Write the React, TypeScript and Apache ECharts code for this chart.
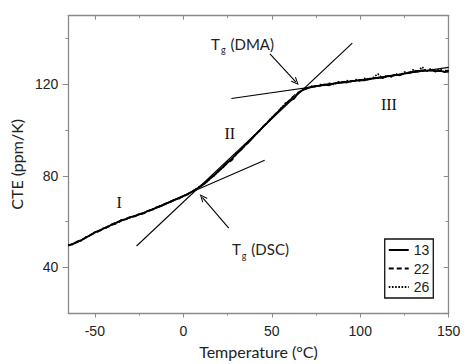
import React, { useEffect, useRef } from "react";
import * as echarts from "echarts";

// Temperature (°C) sample points
const temperatures = [
  -65, -62.5, -60, -57.5, -55, -52.5, -50, -47.5, -45, -42.5, -40, -37.5, -35, -32.5, -30, -27.5,
  -25, -22.5, -20, -17.5, -15, -12.5, -10, -7.5, -5, -2.5, 0, 2.5, 5, 7.5, 10, 12.5, 15, 17.5,
  20, 22.5, 25, 27.5, 30, 32.5, 35, 37.5, 40, 42.5, 45, 47.5, 50, 52.5, 55, 57.5, 60, 62.5,
  65, 67.5, 70, 72.5, 75, 77.5, 80, 82.5, 85, 87.5, 90, 92.5, 95, 97.5, 100, 102.5, 105, 107.5,
  110, 112.5, 115, 117.5, 120, 122.5, 125, 127.5, 130, 132.5, 135, 137.5, 140, 142.5, 145, 147.5, 150,
];

// CTE (ppm/K) for the three samples
const cte13 = [
  49.6, 50.1, 51.2, 51.8, 53.1, 54.0, 55.3, 55.9, 57.0, 57.7, 58.9, 59.5, 60.6, 61.0, 61.9, 62.3,
  63.2, 63.6, 64.6, 65.2, 66.2, 66.8, 67.8, 68.5, 69.5, 70.1, 71.1, 71.9, 73.1, 74.2, 75.6, 76.9, 78.7, 80.2,
  82.2, 83.8, 85.8, 87.5, 89.6, 91.3, 93.4, 95.2, 97.4, 99.2, 101.4, 103.2, 105.3, 107.1, 109.2, 110.9, 113.0, 113.6,
  116.4, 117.4, 118.4, 118.8, 119.3, 119.4, 119.9, 119.6, 120.4, 120.5, 121.0, 120.8, 121.5, 121.5, 121.9, 121.7, 122.4, 122.5,
  122.9, 122.8, 123.5, 123.6, 124.1, 124.0, 124.8, 124.9, 125.6, 125.6, 126.1, 125.9, 126.2, 125.7, 126.0, 125.4, 125.6,
];
const cte22 = [
  49.4, 50.3, 50.9, 52.0, 52.9, 54.2, 55.0, 56.1, 56.8, 57.9, 58.6, 59.2, 60.3, 61.2, 61.7, 62.5,
  62.9, 63.8, 64.4, 65.4, 66.0, 67.0, 67.6, 68.7, 69.3, 70.3, 70.9, 72.1, 72.9, 74.4, 75.4, 77.1, 78.5, 80.4,
  82.0, 84.0, 85.6, 86.9, 89.4, 91.5, 93.2, 95.4, 97.2, 99.4, 101.2, 103.4, 105.1, 107.3, 109.0, 111.3, 112.8, 114.9,
  116.2, 117.6, 118.2, 119.0, 119.1, 119.6, 119.7, 120.2, 120.2, 120.7, 120.8, 121.2, 121.3, 121.7, 121.7, 122.2, 122.2, 122.7,
  122.7, 123.2, 123.3, 123.8, 123.9, 124.4, 124.6, 125.2, 125.4, 125.9, 125.9, 126.3, 126.0, 126.2, 125.8, 126.0, 125.9,
];
const cte26 = [
  49.7, 50.0, 51.1, 51.7, 53.2, 53.9, 55.2, 55.8, 57.1, 57.6, 58.9, 59.8, 60.5, 60.9, 62.0, 62.2,
  63.1, 63.5, 64.7, 65.1, 66.3, 66.7, 67.9, 68.4, 69.6, 70.0, 71.2, 71.8, 73.2, 74.1, 75.7, 76.8, 78.8, 80.1,
  82.3, 83.7, 85.9, 87.4, 89.7, 91.2, 93.5, 95.1, 97.5, 99.1, 101.5, 103.1, 105.4, 107.0, 109.3, 111.6, 112.7, 115.1,
  116.0, 117.8, 118.1, 119.1, 119.0, 119.9, 119.5, 120.4, 120.0, 121.1, 120.6, 121.6, 121.0, 122.1, 121.4, 122.6, 121.9, 123.0,
  124.6, 122.6, 123.9, 123.2, 124.6, 123.9, 125.4, 124.8, 126.4, 125.5, 127.6, 125.6, 126.9, 125.6, 126.6, 125.5, 126.1,
];

const seriesNames = ["13", "22", "26"];

// Tick values
const xMajorTicks = [-50, 0, 50, 100, 150];
const xMinorTicks = [-25, 25, 75, 125];
const yMajorTicks = [40, 80, 120];
const yMinorTicks = [60, 100, 140];

// Tangent lines [x, y] endpoints
const tangentI = [[-15, 66.2], [46, 86.8]];
const tangentII = [[-26.4, 49.3], [95.5, 138]];
const tangentIII = [[27.2, 113.8], [150, 127.4]];

// Arrows: [from, to]
const arrowDMA = [[49, 133.3], [63.7, 121]];
const arrowDSC = [[25.7, 57.1], [10.8, 70.6]];

// Region labels
const regionLabels = [
  { text: "I", pos: [-36.3, 68.3] },
  { text: "II", pos: [26.3, 98.7] },
  { text: "III", pos: [116.2, 111.3] },
];
const tgLabels = [
  { text: "{t|T}{s|g}{t| (DMA)}", pos: [33.5, 137.1] },
  { text: "{t|T}{s|g}{t| (DSC)}", pos: [43.6, 47.3] },
];

const AXIS_COLOR = "#8a8a8a";
const TEXT_COLOR = "#222";

function zip(xs: number[], ys: number[]) {
  return xs.map((x, i) => [x, ys[i]]);
}

export default function App() {
  const ref = useRef<HTMLDivElement>(null);
  useEffect(() => {
    if (!ref.current) return;
    const chart = echarts.init(ref.current, undefined, { renderer: "svg" });

    const baseX = { type: "value", min: -65, max: 150, splitLine: { show: false } };
    const baseY = { type: "value", min: 20, max: 150, splitLine: { show: false } };
    const line = { show: true, onZero: false, lineStyle: { color: AXIS_COLOR, width: 1.3 } };
    const noLine = { show: false, onZero: false };

    const chevron = "path://M5,0 L10,10 L8.4,10 L5,3 L1.6,10 L0,10 Z";

    const option: any = {
      animation: false,
      backgroundColor: "#fff",
      grid: { left: 64.5, right: 25.3, top: 15.7, bottom: 51, containLabel: false },
      legend: {
        data: seriesNames,
        orient: "vertical",
        right: 40.7,
        top: 239,
        itemWidth: 20,
        itemHeight: 10,
        itemGap: 4.5,
        padding: [4, 4, 4, 3],
        borderColor: "#111",
        borderWidth: 1.3,
        itemStyle: { opacity: 0 },
        textStyle: { fontSize: 14, color: TEXT_COLOR, fontFamily: "Liberation Sans, Arial" },
      },
      xAxis: [
        {
          ...baseX,
          position: "bottom",
          axisLine: line,
          axisTick: { show: true, inside: false, length: 4.5, customValues: xMajorTicks, lineStyle: { color: AXIS_COLOR } },
          axisLabel: {
            customValues: xMajorTicks,
            fontSize: 14,
            color: TEXT_COLOR,
            fontFamily: "Liberation Sans, Arial",
            margin: 11,
          },
          name: "Temperature (°C)",
          nameLocation: "middle",
          nameGap: 30,
          nameTextStyle: { fontSize: 16, color: TEXT_COLOR, fontFamily: "Lato" },
        },
        {
          ...baseX,
          position: "bottom",
          axisLine: noLine,
          axisTick: { show: true, inside: false, length: 2.5, customValues: xMinorTicks, lineStyle: { color: AXIS_COLOR } },
          axisLabel: { show: false },
        },
        {
          ...baseX,
          position: "top",
          axisLine: line,
          axisTick: { show: true, inside: true, length: 4, customValues: xMajorTicks, lineStyle: { color: AXIS_COLOR } },
          axisLabel: { show: false },
        },
        {
          ...baseX,
          position: "top",
          axisLine: noLine,
          axisTick: { show: true, inside: true, length: 2.5, customValues: xMinorTicks, lineStyle: { color: AXIS_COLOR } },
          axisLabel: { show: false },
        },
      ],
      yAxis: [
        {
          ...baseY,
          position: "left",
          axisLine: line,
          axisTick: { show: true, inside: false, length: 5.5, customValues: yMajorTicks, lineStyle: { color: AXIS_COLOR } },
          axisLabel: {
            customValues: yMajorTicks,
            fontSize: 14,
            color: TEXT_COLOR,
            fontFamily: "Liberation Sans, Arial",
            margin: 10,
          },
          name: "CTE (ppm/K)",
          nameLocation: "middle",
          nameGap: 41,
          nameTextStyle: { fontSize: 16, color: TEXT_COLOR, fontFamily: "Lato" },
        },
        {
          ...baseY,
          position: "left",
          axisLine: noLine,
          axisTick: { show: true, inside: false, length: 3, customValues: yMinorTicks, lineStyle: { color: AXIS_COLOR } },
          axisLabel: { show: false },
        },
        {
          ...baseY,
          position: "right",
          axisLine: line,
          axisTick: { show: true, inside: true, length: 5, customValues: yMajorTicks, lineStyle: { color: AXIS_COLOR } },
          axisLabel: { show: false },
        },
        {
          ...baseY,
          position: "right",
          axisLine: noLine,
          axisTick: { show: true, inside: true, length: 3, customValues: yMinorTicks, lineStyle: { color: AXIS_COLOR } },
          axisLabel: { show: false },
        },
      ],
      series: [
        {
          name: "13",
          type: "line",
          data: zip(temperatures, cte13),
          showSymbol: false,
          symbol: "none",
          lineStyle: { color: "#000", width: 1.9, type: "solid" },
          itemStyle: { color: "#000" },
        },
        {
          name: "22",
          type: "line",
          data: zip(temperatures, cte22),
          showSymbol: false,
          symbol: "none",
          lineStyle: { color: "#000", width: 1.7, type: [5, 3] },
          itemStyle: { color: "#000" },
        },
        {
          name: "26",
          type: "line",
          data: zip(temperatures, cte26),
          showSymbol: false,
          symbol: "none",
          lineStyle: { color: "#000", width: 1.7, type: [1.6, 1.6] },
          itemStyle: { color: "#000" },
        },
        ...[tangentI, tangentII, tangentIII].map((t, i) => ({
          name: "tangent" + i,
          type: "line",
          data: t,
          showSymbol: false,
          symbol: "none",
          silent: true,
          lineStyle: { color: "#000", width: 1.1 },
          z: 1,
        })),
        {
          name: "annotations",
          type: "line",
          data: [],
          silent: true,
          markLine: {
            silent: true,
            symbol: ["none", chevron],
            symbolSize: [7, 8],
            lineStyle: { color: "#000", width: 1.1, type: "solid" },
            label: { show: false },
            data: [arrowDMA, arrowDSC].map((a) => [{ coord: a[0] }, { coord: a[1] }]),
          },
          markPoint: {
            silent: true,
            symbol: "circle",
            symbolSize: 0,
            data: [
              ...regionLabels.map((r) => ({
                coord: r.pos,
                label: {
                  show: true,
                  position: "inside",
                  formatter: r.text,
                  fontSize: 16,
                  fontFamily: "Liberation Serif, Times New Roman, serif",
                  color: "#111",
                },
              })),
              ...tgLabels.map((r) => ({
                coord: r.pos,
                label: {
                  show: true,
                  position: "inside",
                  formatter: r.text,
                  rich: {
                    t: { fontSize: 15, fontFamily: "Lato", color: TEXT_COLOR, lineHeight: 18, verticalAlign: "top" },
                    s: { fontSize: 9, fontFamily: "Lato", color: TEXT_COLOR, lineHeight: 10, padding: [14, 1, 0, 1], verticalAlign: "bottom" },
                  },
                },
              })),
            ],
          },
        },
      ],
    };
    chart.setOption(option);
    return () => chart.dispose();
  }, []);
  return <div ref={ref} style={{ position: "fixed", left: 0, top: 0, width: 474, height: 364, background: "#fff" }} />;
}
